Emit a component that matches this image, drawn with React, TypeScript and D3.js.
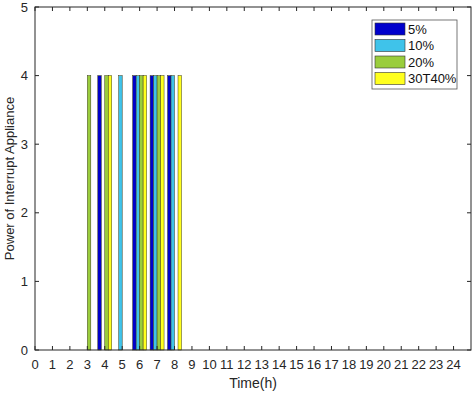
import { useEffect, useRef } from 'react'
import * as d3 from 'd3'

// hours 0..24
const hours = d3.range(0, 25)
const seriesNames = ['5%', '10%', '20%', '30T40%']
const seriesColors = ['#0000cc', '#3fc3ea', '#9acd3c', '#ffff1e']

// power of interrupt appliance per hour, one array per series
const s5 = [0, 0, 0, 0, 4, 0, 4, 4, 4, 0, 0, 0, 0, 0, 0, 0, 0, 0, 0, 0, 0, 0, 0, 0, 0]
const s10 = [0, 0, 0, 0, 0, 4, 4, 4, 4, 0, 0, 0, 0, 0, 0, 0, 0, 0, 0, 0, 0, 0, 0, 0, 0]
const s20 = [0, 0, 0, 4, 4, 0, 4, 4, 0, 0, 0, 0, 0, 0, 0, 0, 0, 0, 0, 0, 0, 0, 0, 0, 0]
const s30 = [0, 0, 0, 0, 4, 0, 4, 4, 4, 0, 0, 0, 0, 0, 0, 0, 0, 0, 0, 0, 0, 0, 0, 0, 0]
const yTicks = [0, 1, 2, 3, 4, 5]

export default function App() {
  const svgRef = useRef<SVGSVGElement>(null)
  const width = 474
  const height = 395

  useEffect(() => {
    if (!svgRef.current) return
    const svg = d3.select(svgRef.current)
    svg.selectAll('*').remove()

    const margin = { top: 7, right: 3, bottom: 45, left: 35 }
    const innerW = width - margin.left - margin.right
    const innerH = height - margin.top - margin.bottom
    const font = 'Liberation Sans, Arial, sans-serif'
    const axisColor = '#262626'

    const x = d3.scaleLinear().domain([0, 25]).range([0, innerW])
    const y = d3.scaleLinear().domain([0, 5]).range([innerH, 0])

    // MATLAB style grouped bars: group width 0.8, 4 bars
    const inner = d3.scaleBand<number>()
      .domain(d3.range(seriesNames.length))
      .range([-0.4, 0.4])

    const g = svg.append('g').attr('transform', `translate(${margin.left},${margin.top})`)

    const data = [s5, s10, s20, s30]
    data.forEach((vals, si) => {
      g.append('g')
        .selectAll('rect')
        .data(hours.filter((h) => vals[h] > 0))
        .join('rect')
        .attr('x', (h) => x(h + (inner(si) as number)))
        .attr('width', x(inner.bandwidth()) - x(0))
        .attr('y', (h) => y(vals[h]))
        .attr('height', (h) => y(0) - y(vals[h]))
        .attr('fill', seriesColors[si])
        .attr('stroke', '#3a3a1a')
        .attr('stroke-width', 0.5)
    })

    // box
    g.append('rect')
      .attr('width', innerW)
      .attr('height', innerH)
      .attr('fill', 'none')
      .attr('stroke', axisColor)
      .attr('stroke-width', 1)

    const tickLen = 4
    // x ticks (bottom and top, inward)
    hours.forEach((h) => {
      g.append('line')
        .attr('x1', x(h)).attr('x2', x(h))
        .attr('y1', innerH).attr('y2', innerH - tickLen)
        .attr('stroke', axisColor)
      g.append('line')
        .attr('x1', x(h)).attr('x2', x(h))
        .attr('y1', 0).attr('y2', tickLen)
        .attr('stroke', axisColor)
      g.append('text')
        .attr('x', x(h))
        .attr('y', innerH + 19)
        .attr('text-anchor', 'middle')
        .attr('font-family', font)
        .attr('font-size', 13)
        .attr('fill', axisColor)
        .text(String(h))
    })

    // y ticks (left and right, inward)
    yTicks.forEach((t) => {
      g.append('line')
        .attr('x1', 0).attr('x2', tickLen)
        .attr('y1', y(t)).attr('y2', y(t))
        .attr('stroke', axisColor)
      g.append('line')
        .attr('x1', innerW).attr('x2', innerW - tickLen)
        .attr('y1', y(t)).attr('y2', y(t))
        .attr('stroke', axisColor)
      g.append('text')
        .attr('x', -7)
        .attr('y', y(t))
        .attr('dy', '0.36em')
        .attr('text-anchor', 'end')
        .attr('font-family', font)
        .attr('font-size', 13)
        .attr('fill', axisColor)
        .text(String(t))
    })

    // axis labels
    g.append('text')
      .attr('x', innerW / 2)
      .attr('y', innerH + 38)
      .attr('text-anchor', 'middle')
      .attr('font-family', font)
      .attr('font-size', 14)
      .attr('fill', axisColor)
      .text('Time(h)')

    g.append('text')
      .attr('transform', `translate(${-21},${innerH / 2}) rotate(-90)`)
      .attr('text-anchor', 'middle')
      .attr('font-family', font)
      .attr('font-size', 13)
      .attr('fill', axisColor)
      .text('Power of Interrupt Appliance')

    // legend
    const lg = svg.append('g').attr('transform', 'translate(372,20)')
    lg.append('rect')
      .attr('width', 85)
      .attr('height', 69)
      .attr('fill', 'white')
      .attr('stroke', '#555')
      .attr('stroke-width', 0.8)
    seriesNames.forEach((name, i) => {
      const row = lg.append('g').attr('transform', `translate(3,${3 + i * 16.5})`)
      row.append('rect')
        .attr('width', 30)
        .attr('height', 12)
        .attr('fill', seriesColors[i])
        .attr('stroke', '#333')
        .attr('stroke-width', 0.6)
      row.append('text')
        .attr('x', 33)
        .attr('y', 6)
        .attr('dy', '0.36em')
        .attr('font-family', font)
        .attr('font-size', 13)
        .attr('fill', '#111')
        .text(name)
    })
  }, [])

  return (
    <div style={{ position: 'absolute', left: 0, top: 0 }}>
      <svg ref={svgRef} width={width} height={height} style={{ display: 'block', background: 'white' }} />
    </div>
  )
}
